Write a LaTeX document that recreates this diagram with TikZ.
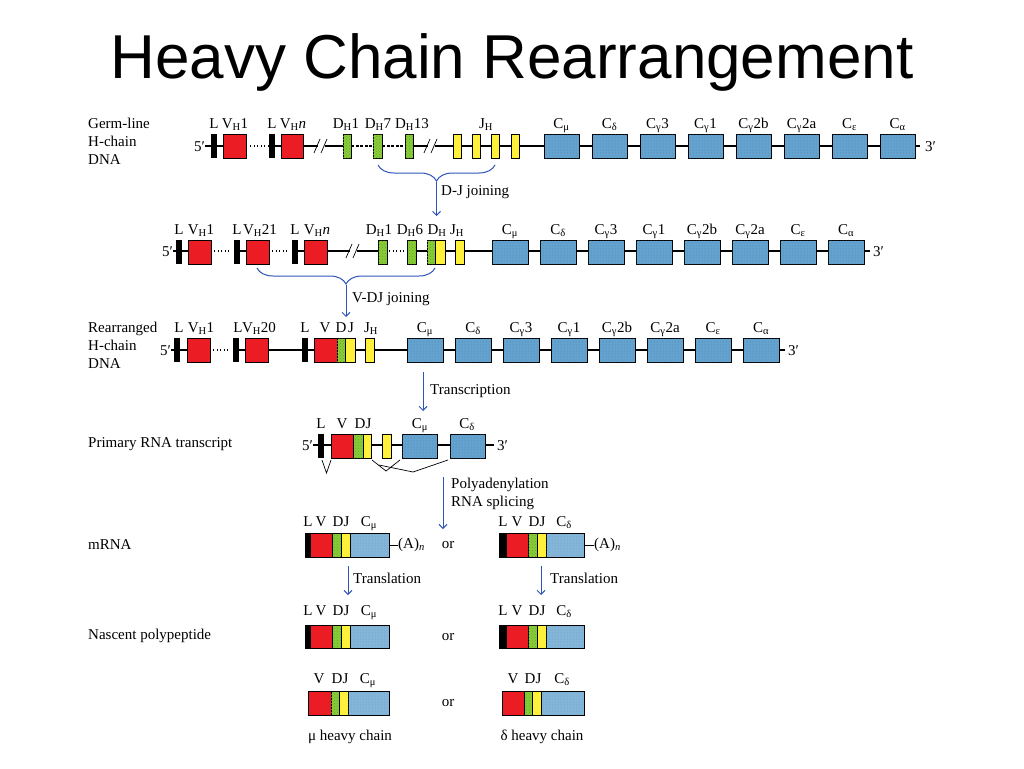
\documentclass[tikz,border=0pt]{standalone}
\usepackage{fontspec}
\setmainfont{Liberation Serif}
\newfontfamily\titlefont{Liberation Sans}
\usepackage{xcolor}
\usetikzlibrary{arrows.meta,decorations.pathreplacing,patterns}

\definecolor{vred}{RGB}{236,28,36}
\definecolor{dgreen}{RGB}{135,205,55}
\definecolor{jyellow}{RGB}{255,240,60}
\definecolor{cblue}{RGB}{100,162,208}
\definecolor{cbluel}{RGB}{132,182,218}
\definecolor{arrowblue}{RGB}{45,85,185}

\tikzset{
  dna/.style={line width=1.3pt},
  dotgap/.style={line width=1.3pt, dash pattern=on 1.3pt off 2.2pt},
  dashgap/.style={line width=1.3pt, dash pattern=on 3pt off 1.6pt},
  vbox/.style={fill=vred, draw=black, line width=0.6pt},
  dbox/.style={fill=dgreen, draw=black, line width=0.6pt,
    postaction={pattern=crosshatch dots, pattern color=dgreen!80!black}},
  jbox/.style={fill=jyellow, draw=black, line width=0.6pt},
  cbox/.style={fill=cblue, draw=black, line width=0.6pt,
    postaction={pattern=dots, pattern color=cblue!80!black}},
  cboxl/.style={fill=cbluel, draw=black, line width=0.6pt,
    postaction={pattern=dots, pattern color=cbluel!80!black}},
  lab/.style={font=\fontsize{15}{17}\selectfont, anchor=base, inner sep=0pt},
  side/.style={font=\fontsize{15}{18}\selectfont, anchor=west, inner sep=0pt, align=left},
  flow/.style={draw=arrowblue, line width=1pt, -{Straight Barb[length=4pt,width=8pt]}},
  joinbrace/.style={draw=arrowblue, line width=1pt, decorate,
    decoration={brace, mirror, amplitude=16pt}},
  splice/.style={line width=0.7pt},
}

\begin{document}
\begin{tikzpicture}[x=1pt, y=-1pt]
    \useasboundingbox (0,0) rectangle (1024,768);
    \fill[white] (0,0) rectangle (1024,768);

    % Title
    \node[font=\titlefont\fontsize{62}{70}\selectfont, anchor=base, inner sep=0pt] (title) at (512,78) {Heavy Chain Rearrangement};

    % Germ-line DNA
    \node[side] (glside) at (88,141) {Germ-line\\H-chain\\DNA};
    \node[lab, anchor=base east] (gl5) at (205,151) {5′};
    \draw[dna] (205,146) -- (247,146);
    \draw[dotgap] (250,146) -- (267,146);
    \draw[dna] (268,146) -- (343,146);
    \draw[dashgap] (351,146) -- (373,146) (382,146) -- (405,146);
    \draw[dna] (413,146) -- (920,146);
    \node[lab, anchor=base west] (gl3) at (925,151) {3′};
    \fill[white] (318,143) rectangle (325,149);
    \draw[splice] (314,153) -- (320,139) (321,153) -- (327,139);
    \fill[white] (428,143) rectangle (435,149);
    \draw[splice] (424,153) -- (430,139) (431,153) -- (437,139);
    \fill (211,134) rectangle (217,158);
    \draw[vbox] (223,134) rectangle (246,158);
    \fill (269,134) rectangle (275,158);
    \draw[vbox] (281,134) rectangle (303,158);
    \draw[dbox] (343,134) rectangle (351,158);
    \draw[dbox] (373,134) rectangle (382,158);
    \draw[dbox] (405,134) rectangle (413,158);
    \foreach \x [count=\i] in {453,472,491,511}
        \draw[jbox] (\x,134) rectangle +(8,24);
    \node[lab] (gll1) at (214,128) {L};
    \node[lab] (glv1) at (235,128) {V\textsubscript{H}1};
    \node[lab] (gll2) at (272,128) {L};
    \node[lab] (glvn) at (293,128) {V\textsubscript{H}\textit{n}};
    \node[lab] (gld1) at (346,128) {D\textsubscript{H}1};
    \node[lab] (gld7) at (378,128) {D\textsubscript{H}7};
    \node[lab] (gld13) at (412,128) {D\textsubscript{H}13};
    \node[lab] (glj) at (486,128) {J\textsubscript{H}};
    \foreach \s/\t [count=\i from 0] in {μ/,δ/,γ/3,γ/1,γ/2b,γ/2a,ε/,α/} {
        \draw[cbox] ({544+48*\i},134) rectangle +(35,24);
        \node[lab] (glc\i) at ({561.5+48*\i},128) {C\textsubscript{\s}\t};
    }

    % D-J joining
    \draw[joinbrace] (378,165) -- (495,165) coordinate[midway] (djmid);
    \coordinate (djtip) at (436.5,182);
    \coordinate (djend) at (436.5,216);
    \draw[flow] (djtip) -- (djend);
    \node[lab, anchor=base west] (djtext) at (441,195) {D-J joining};

    % DJ-joined DNA
    \node[lab, anchor=base east] (dj5) at (173,256) {5′};
    \draw[dna] (173,251) -- (211,251);
    \draw[dotgap] (214,251) -- (231,251);
    \draw[dna] (234,251) -- (269,251);
    \draw[dotgap] (272,251) -- (289,251);
    \draw[dna] (292,251) -- (378,251);
    \draw[dotgap] (389,251) -- (406,251);
    \draw[dna] (416,251) -- (870,251);
    \node[lab, anchor=base west] (dj3) at (873,256) {3′};
    \fill[white] (350,248) rectangle (357,254);
    \draw[splice] (346,258) -- (352,244) (353,258) -- (359,244);
    \fill (176,240) rectangle (182,264);
    \draw[vbox] (188,240) rectangle (211,264);
    \fill (234,240) rectangle (240,264);
    \draw[vbox] (246,240) rectangle (269,264);
    \fill (292,240) rectangle (298,264);
    \draw[vbox] (304,240) rectangle (327,264);
    \draw[dbox] (378,240) rectangle (387,264);
    \draw[dbox] (407,240) rectangle (416,264);
    \draw[dbox] (427,240) rectangle (435,264);
    \draw[jbox] (435,240) rectangle (445,264);
    \draw[jbox] (455,240) rectangle (464,264);
    \node[lab] (djl1) at (179,234) {L};
    \node[lab] (djv1) at (201,234) {V\textsubscript{H}1};
    \node[lab] (djl2) at (237,234) {L};
    \node[lab] (djv21) at (260,234) {V\textsubscript{H}21};
    \node[lab] (djl3) at (295,234) {L};
    \node[lab] (djvn) at (317,234) {V\textsubscript{H}\textit{n}};
    \node[lab] (djd1) at (379,234) {D\textsubscript{H}1};
    \node[lab] (djd6) at (410,234) {D\textsubscript{H}6};
    \node[lab] (djd) at (437,234) {D\textsubscript{H}};
    \node[lab] (djj) at (457,234) {J\textsubscript{H}};
    \foreach \s/\t [count=\i from 0] in {μ/,δ/,γ/3,γ/1,γ/2b,γ/2a,ε/,α/} {
        \draw[cbox] ({492+48*\i},240) rectangle +(36,24);
        \node[lab] (djc\i) at ({510+48*\i},234) {C\textsubscript{\s}\t};
    }

    % V-DJ joining
    \draw[joinbrace] (257,268) -- (435,268) coordinate[midway] (vdjmid);
    \coordinate (vdjtip) at (346,285);
    \coordinate (vdjend) at (346,317);
    \draw[flow] (vdjtip) -- (vdjend);
    \node[lab, anchor=base west] (vdjtext) at (352,302) {V-DJ joining};

    % Rearranged DNA
    \node[side] (rside) at (88,345) {Rearranged\\H-chain\\DNA};
    \node[lab, anchor=base east] (r5) at (171,355) {5′};
    \draw[dna] (171,350) -- (210,350);
    \draw[dotgap] (213,350) -- (230,350);
    \draw[dna] (233,350) -- (785,350);
    \node[lab, anchor=base west] (r3) at (788,355) {3′};
    \fill (174,338) rectangle (180,362);
    \draw[vbox] (187,338) rectangle (210,362);
    \fill (233,338) rectangle (239,362);
    \draw[vbox] (245,338) rectangle (268,362);
    \fill (302,338) rectangle (308,362);
    \draw[vbox] (314,338) rectangle (337,362);
    \draw[dbox] (337,338) rectangle (345,362);
    \draw[jbox] (345,338) rectangle (355,362);
    \draw[jbox] (365,338) rectangle (374,362);
    \node[lab] (rl1) at (179,332) {L};
    \node[lab] (rv1) at (201,332) {V\textsubscript{H}1};
    \node[lab] (rl2) at (238,332) {L};
    \node[lab] (rv20) at (259,332) {V\textsubscript{H}20};
    \node[lab] (rl3) at (305,332) {L};
    \node[lab] (rv) at (325,332) {V};
    \node[lab] (rd) at (341,332) {D};
    \node[lab] (rj) at (351,332) {J};
    \node[lab] (rjh) at (371,332) {J\textsubscript{H}};
    \foreach \s/\t [count=\i from 0] in {μ/,δ/,γ/3,γ/1,γ/2b,γ/2a,ε/,α/} {
        \draw[cbox] ({407+48*\i},338) rectangle +(36,24);
        \node[lab] (rc\i) at ({425+48*\i},332) {C\textsubscript{\s}\t};
    }

    % Transcription
    \coordinate (trtop) at (423,372);
    \coordinate (trend) at (423,411);
    \draw[flow] (trtop) -- (trend);
    \node[lab, anchor=base west] (trtext) at (430,394) {Transcription};

    % Primary RNA transcript
    \node[side] (pside) at (88,444) {Primary RNA transcript};
    \node[lab, anchor=base east] (p5) at (313,450) {5′};
    \draw[dna] (313,445) -- (494,445);
    \node[lab, anchor=base west] (p3) at (497,450) {3′};
    \fill (318,434) rectangle (324,458);
    \draw[vbox] (331,434) rectangle (353,458);
    \draw[dbox] (353,434) rectangle (363,458);
    \draw[jbox] (363,434) rectangle (371,458);
    \draw[jbox] (382,434) rectangle (391,458);
    \draw[cbox] (402,434) rectangle (437,458);
    \draw[cbox] (450,434) rectangle (485,458);
    \node[lab] (pl) at (321,428) {L};
    \node[lab] (pv) at (342,428) {V};
    \node[lab] (pdj) at (363,428) {DJ};
    \node[lab] (pcm) at (420,428) {C\textsubscript{μ}};
    \node[lab] (pcd) at (467,428) {C\textsubscript{δ}};
    % splices
    \draw[splice] (322,460) -- (326.5,473) -- (331,460);
    \draw[splice] (372,460) -- (386,471) -- (400,460);
    \draw[splice] (379,465) -- (413,472) -- (448,460);

    % Polyadenylation, RNA splicing
    \coordinate (patop) at (443,477);
    \coordinate (paend) at (443,529);
    \draw[flow] (patop) -- (paend);
    \node[lab, anchor=base west] (patext) at (451,488) {Polyadenylation};
    \node[lab, anchor=base west] (sptext) at (451,506) {RNA splicing};

    % mRNA
    \node[side] (mside) at (88,545) {mRNA};
    \fill (305,533) rectangle (310,557);
    \draw[vbox] (310,533) rectangle (332,557);
    \draw[dbox] (332,533) rectangle (341,557);
    \draw[jbox] (341,533) rectangle (350,557);
    \draw[cboxl] (350,533) rectangle (389,557);
    \draw[line width=0.8pt] (305,533) rectangle (389,557);
    \draw[line width=0.8pt] (389,545) -- (398,545);
    \node[lab, anchor=west] (mpa1) at (398,545) {(A)\textsubscript{\textit{n}}};
    \node[lab] (ml1) at (308,526) {L};
    \node[lab] (mv1) at (321,526) {V};
    \node[lab] (mdj1) at (341,526) {DJ};
    \node[lab] (mc1) at (369,526) {C\textsubscript{μ}};
    \node[lab, anchor=center] (mor) at (448,545) {or};
    \fill (499,533) rectangle (506,557);
    \draw[vbox] (506,533) rectangle (528,557);
    \draw[dbox] (528,533) rectangle (537,557);
    \draw[jbox] (537,533) rectangle (546,557);
    \draw[cboxl] (546,533) rectangle (584,557);
    \draw[line width=0.8pt] (499,533) rectangle (584,557);
    \draw[line width=0.8pt] (584,545) -- (594,545);
    \node[lab, anchor=west] (mpa2) at (594,545) {(A)\textsubscript{\textit{n}}};
    \node[lab] (ml2) at (503,526) {L};
    \node[lab] (mv2) at (517,526) {V};
    \node[lab] (mdj2) at (537,526) {DJ};
    \node[lab] (mc2) at (564,526) {C\textsubscript{δ}};

    % Translation
    \coordinate (tl1top) at (348,566);
    \coordinate (tl1end) at (348,595);
    \draw[flow] (tl1top) -- (tl1end);
    \node[lab, anchor=base west] (tl1text) at (353,583) {Translation};
    \coordinate (tl2top) at (541,566);
    \coordinate (tl2end) at (541,595);
    \draw[flow] (tl2top) -- (tl2end);
    \node[lab, anchor=base west] (tl2text) at (550,583) {Translation};

    % Nascent polypeptide
    \node[side] (nside) at (88,636) {Nascent polypeptide};
    \fill (305,625) rectangle (310,648);
    \draw[vbox] (310,625) rectangle (332,648);
    \draw[dbox] (332,625) rectangle (341,648);
    \draw[jbox] (341,625) rectangle (350,648);
    \draw[cboxl] (350,625) rectangle (389,648);
    \draw[line width=0.8pt] (305,625) rectangle (389,648);
    \node[lab] (nl1) at (308,615) {L};
    \node[lab] (nv1) at (321,615) {V};
    \node[lab] (ndj1) at (341,615) {DJ};
    \node[lab] (nc1) at (369,615) {C\textsubscript{μ}};
    \node[lab, anchor=center] (nor) at (448,637) {or};
    \fill (499,625) rectangle (506,648);
    \draw[vbox] (506,625) rectangle (528,648);
    \draw[dbox] (528,625) rectangle (537,648);
    \draw[jbox] (537,625) rectangle (546,648);
    \draw[cboxl] (546,625) rectangle (584,648);
    \draw[line width=0.8pt] (499,625) rectangle (584,648);
    \node[lab] (nl2) at (503,615) {L};
    \node[lab] (nv2) at (517,615) {V};
    \node[lab] (ndj2) at (537,615) {DJ};
    \node[lab] (nc2) at (564,615) {C\textsubscript{δ}};

    % Heavy chains
    \draw[vbox] (308,691) rectangle (331,715);
    \draw[dbox] (331,691) rectangle (339,715);
    \draw[jbox] (339,691) rectangle (348,715);
    \draw[cboxl] (348,691) rectangle (389,715);
    \draw[line width=0.8pt] (308,691) rectangle (389,715);
    \node[lab] (hv1) at (319,683) {V};
    \node[lab] (hdj1) at (340,683) {DJ};
    \node[lab] (hc1) at (368,683) {C\textsubscript{μ}};
    \node[lab, anchor=center] (hor) at (448,703) {or};
    \draw[vbox] (502,691) rectangle (524,715);
    \draw[dbox] (524,691) rectangle (532,715);
    \draw[jbox] (532,691) rectangle (541,715);
    \draw[cboxl] (541,691) rectangle (584,715);
    \draw[line width=0.8pt] (502,691) rectangle (584,715);
    \node[lab] (hv2) at (513,683) {V};
    \node[lab] (hdj2) at (533,683) {DJ};
    \node[lab] (hc2) at (562,683) {C\textsubscript{δ}};
    \node[lab, anchor=center] (mu) at (350,737) {μ heavy chain};
    \node[lab, anchor=center] (delta) at (542,737) {δ heavy chain};
\end{tikzpicture}
\end{document}
